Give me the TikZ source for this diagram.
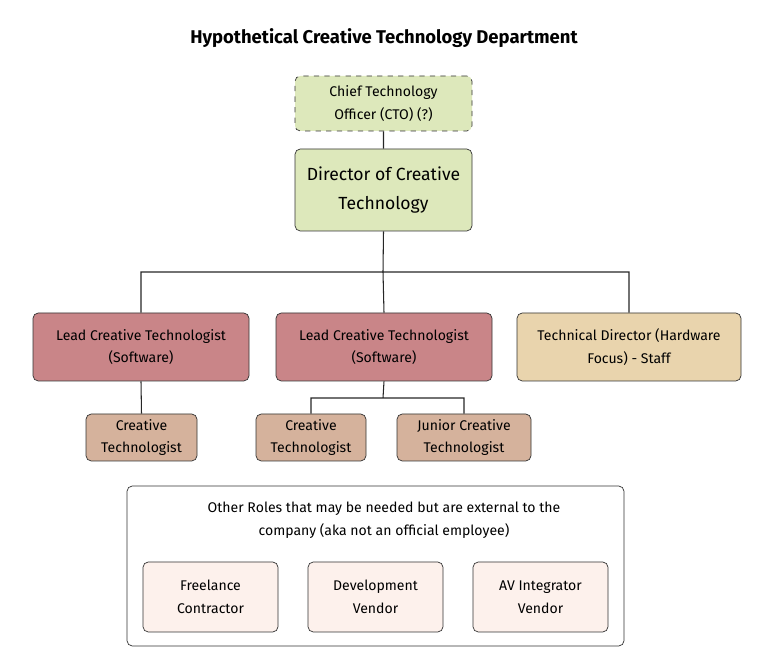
\documentclass[tikz,border=0pt]{standalone}
\usepackage{fontspec}
\setmainfont{Fira Sans}
\usetikzlibrary{positioning}
\definecolor{ctogreen}{HTML}{DDE8BB}
\definecolor{leadred}{HTML}{C98588}
\definecolor{tdtan}{HTML}{E9D4AD}
\definecolor{cttan}{HTML}{D5B29C}
\definecolor{extpink}{HTML}{FDF1EC}
\tikzset{
  box/.style={draw=black!80, rounded corners=3pt, align=center, inner sep=0pt, font=\fontsize{8}{13}\selectfont},
  link/.style={draw=black!85, line width=0.6pt}
}
\begin{document}
\begin{tikzpicture}[x=0.02cm, y=-0.02cm]
\useasboundingbox (0,0) rectangle (768,665);
\node[font=\bfseries\fontsize{10.5}{12}\selectfont] (title) at (384,38) {Hypothetical Creative Technology Department};

\node[box, dashed, fill=ctogreen, minimum width=177*0.02cm, minimum height=55*0.02cm] at (383.5,103.5)(cto){Chief Technology\\Officer (CTO) (?)};
\node[box, fill=ctogreen, minimum width=177*0.02cm, minimum height=82*0.02cm, font=\fontsize{10}{17}\selectfont] at (383.5,190)(dir){Director of Creative\\Technology};

\node[box, fill=leadred, minimum width=216*0.02cm, minimum height=68*0.02cm] at (141,347)(lead1){Lead Creative Technologist\\(Software)};
\node[box, fill=leadred, minimum width=216*0.02cm, minimum height=68*0.02cm] at (384,347)(lead2){Lead Creative Technologist\\(Software)};
\node[box, fill=tdtan, minimum width=224*0.02cm, minimum height=68*0.02cm] at (629,347)(td){Technical Director (Hardware\\Focus) - Staff};

\node[box, fill=cttan, minimum width=111*0.02cm, minimum height=47*0.02cm] at (141.5,437.5)(ct1){Creative\\Technologist};
\node[box, fill=cttan, minimum width=110*0.02cm, minimum height=47*0.02cm] at (311,437.5)(ct2){Creative\\Technologist};
\node[box, fill=cttan, minimum width=134*0.02cm, minimum height=47*0.02cm] at (464,437.5)(jct){Junior Creative\\Technologist};

\node[box, fill=white, minimum width=497*0.02cm, minimum height=160*0.02cm] at (375.5,566)(ext){};
\node[font=\fontsize{8}{13}\selectfont, align=center] at (384,520)(exttext){Other Roles that may be needed but are external to the\\company (aka not an official employee)};
\node[box, fill=extpink, minimum width=135*0.02cm, minimum height=70*0.02cm] at (210.5,597)(free){Freelance\\Contractor};
\node[box, fill=extpink, minimum width=135*0.02cm, minimum height=70*0.02cm] at (375.5,597)(dev){Development\\Vendor};
\node[box, fill=extpink, minimum width=135*0.02cm, minimum height=70*0.02cm] at (540.5,597)(av){AV Integrator\\Vendor};

\coordinate (hub) at (383,272);
\coordinate (sub) at (383,398);
\path[link]
(cto) -- (dir)
(dir.south) -- (hub)
(lead1.north) |- (hub) -| (td.north)
(hub) -- (lead2.north)
(lead1.south) -- (ct1.north)
(lead2.south) -- (sub)
(ct2.north) |- (sub) -| (jct.north)
;
\end{tikzpicture}
\end{document}
